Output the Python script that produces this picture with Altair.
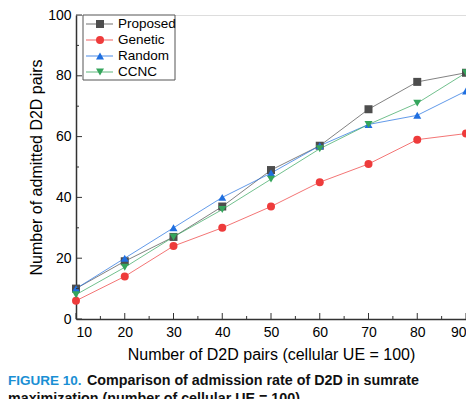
import altair as alt
import pandas as pd

# ---- data ----
x_vals = [10, 20, 30, 40, 50, 60, 70, 80, 90]
series_names = ["Proposed", "Genetic", "Random", "CCNC"]
proposed = [10, 19, 27, 37, 49, 57, 69, 78, 81]
genetic = [6, 14, 24, 30, 37, 45, 51, 59, 61]
random_sel = [10, 20, 30, 40, 48, 57, 64, 67, 75]
ccnc = [8, 17, 27, 36, 46, 56, 64, 71, 81]
marker_colors = ["#4d4d4d", "#ee3b3b", "#1f6fe0", "#35a55c"]
marker_shapes = ["square", "circle", "triangle-up", "triangle-down"]
x_major = [10, 20, 30, 40, 50, 60, 70, 80, 90]
x_minor = [15, 25, 35, 45, 55, 65, 75, 85]
y_major = [0, 20, 40, 60, 80, 100]
y_minor = [10, 30, 50, 70, 90]
caption_label = "FIGURE 10."
caption_1 = "Comparison of admission rate of D2D in sumrate"
caption_2 = "maximization (number of cellular UE = 100)"

FONT = "Liberation Sans"
TOP = 7
W, H = 390, 304

rows = []
for name, vals in zip(series_names, [proposed, genetic, random_sel, ccnc]):
    for i, (xv, yv) in enumerate(zip(x_vals, vals)):
        rows.append({"series": name, "x": xv, "y": yv, "order": i})
df = pd.DataFrame(rows)

xscale = alt.Scale(domain=[10, 90], nice=False, zero=False)
yscale = alt.Scale(domain=[0, 100], nice=False)
cscale = alt.Scale(domain=series_names, range=marker_colors)
sscale = alt.Scale(domain=series_names, range=marker_shapes)

base = alt.Chart(df)

lines = base.mark_line(strokeWidth=1, opacity=0.7).encode(
    x=alt.X("x:Q", scale=xscale,
            axis=alt.Axis(values=x_major, ticks=False, tickSize=0, grid=False,
                          labelFontSize=14, labelPadding=6, labelFont=FONT,
                          labelColor="black",
                          title="Number of D2D pairs (cellular UE = 100)",
                          titleFontSize=16, titleFont=FONT, titleFontWeight="normal",
                          titleColor="black", titlePadding=7,
                          domainColor="#333", domainWidth=1.5)),
    y=alt.Y("y:Q", scale=yscale,
            axis=alt.Axis(values=y_major, ticks=False, tickSize=0, grid=False,
                          labelFontSize=14, labelPadding=5, labelFont=FONT,
                          labelColor="black",
                          title="Number of admitted D2D pairs",
                          titleFontSize=16, titleFont=FONT, titleFontWeight="normal",
                          titleColor="black", titlePadding=3,
                          domainColor="#333", domainWidth=1.5)),
    color=alt.Color("series:N", scale=cscale, legend=None),
    detail="series:N",
    order="order:Q",
)

points = base.mark_point(filled=True, size=64, opacity=1).encode(
    x=alt.X("x:Q", scale=xscale),
    y=alt.Y("y:Q", scale=yscale),
    color=alt.Color("series:N", scale=cscale, legend=None),
    shape=alt.Shape("series:N", scale=sscale, legend=None),
)

xt_major = alt.Chart(pd.DataFrame({"v": x_major})).mark_rule(color="#333", strokeWidth=1).encode(
    x=alt.X("v:Q", scale=xscale), y=alt.value(H), y2=alt.value(H - 6))
xt_minor = alt.Chart(pd.DataFrame({"v": x_minor})).mark_rule(color="#333", strokeWidth=1).encode(
    x=alt.X("v:Q", scale=xscale), y=alt.value(H), y2=alt.value(H - 3))
yt_major = alt.Chart(pd.DataFrame({"v": y_major})).mark_rule(color="#333", strokeWidth=1).encode(
    y=alt.Y("v:Q", scale=yscale), x=alt.value(0), x2=alt.value(6))
yt_minor = alt.Chart(pd.DataFrame({"v": y_minor})).mark_rule(color="#333", strokeWidth=1).encode(
    y=alt.Y("v:Q", scale=yscale), x=alt.value(0), x2=alt.value(3))

main = alt.layer(lines, points, xt_major, xt_minor, yt_major, yt_minor)

# ---- legend (drawn as a box with line+marker entries) ----
leg_df = pd.DataFrame({"series": series_names})
ly = alt.Y("series:N", sort=series_names,
           scale=alt.Scale(type="point", domain=series_names, range=[9, 57], padding=0),
           axis=None)
leg_base = alt.Chart(leg_df)
leg_box = alt.Chart(pd.DataFrame({"k": [0]})).mark_rect(
    fill="white", stroke="#555", strokeWidth=1).encode(
    x=alt.value(7), x2=alt.value(99), y=alt.value(0), y2=alt.value(65))
leg_rules = leg_base.mark_rule(strokeWidth=1, opacity=0.8).encode(
    x=alt.value(10), x2=alt.value(37), y=ly,
    color=alt.Color("series:N", scale=cscale, legend=None))
leg_pts = leg_base.mark_point(filled=True, size=64, opacity=1).encode(
    x=alt.value(24), y=ly,
    color=alt.Color("series:N", scale=cscale, legend=None),
    shape=alt.Shape("series:N", scale=sscale, legend=None))
leg_txt = leg_base.mark_text(align="left", baseline="middle", fontSize=13.5,
                             font=FONT, color="black").encode(
    x=alt.value(42), y=ly, text="series:N")

cap_df = pd.DataFrame({"a": [caption_label], "b": [caption_1], "c": [caption_2]})
cap_base = alt.Chart(cap_df)
cap_a = cap_base.mark_text(align="left", baseline="alphabetic", fontSize=13.5,
                           font=FONT, fontWeight="bold", color="#1a8fd4").encode(
    x=alt.value(-68), y=alt.value(370), text="a:N")
cap_b = cap_base.mark_text(align="left", baseline="alphabetic", fontSize=14.3,
                           font=FONT, fontWeight="bold", color="#111").encode(
    x=alt.value(11), y=alt.value(370), text="b:N")
cap_c = cap_base.mark_text(align="left", baseline="alphabetic", fontSize=14.3,
                           font=FONT, fontWeight="bold", color="#111").encode(
    x=alt.value(-68), y=alt.value(388), text="c:N")

legend = alt.layer(leg_box, leg_rules, leg_pts, leg_txt, cap_a, cap_b, cap_c)

chart = alt.layer(main, legend).resolve_scale(y="independent").properties(
    width=W, height=H,
    autosize=alt.AutoSizeParams(type="none"),
    padding={"left": 68, "top": TOP, "right": 0, "bottom": 80},
).configure_view(stroke="#333", strokeWidth=1.5).configure(background="white")

chart.save("out.html", embed_options={"renderer": "svg", "actions": False})
